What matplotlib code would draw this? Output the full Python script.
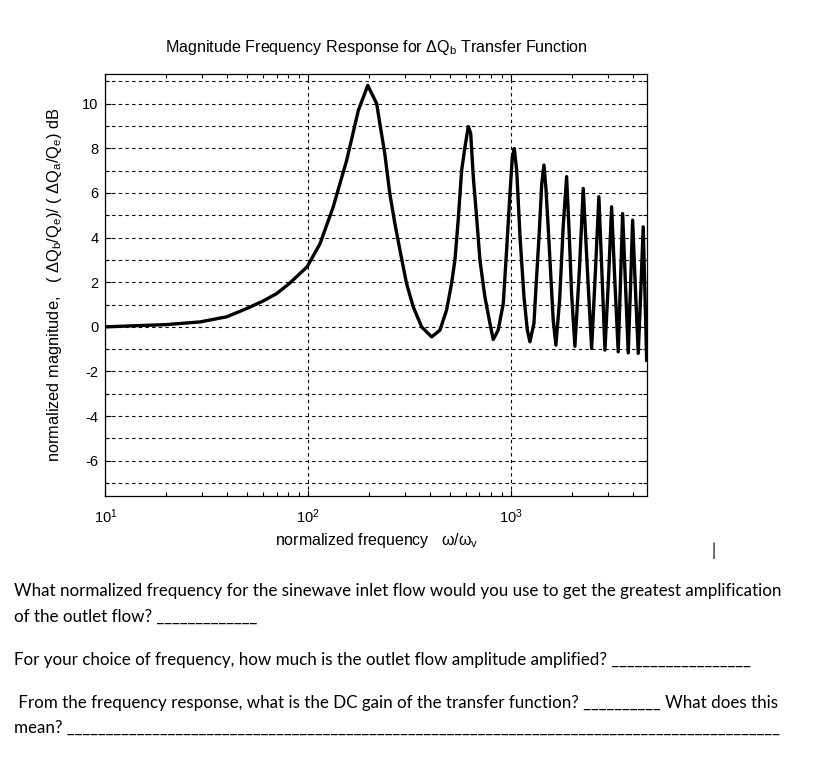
import matplotlib
matplotlib.use("Agg")
import matplotlib.pyplot as plt
import numpy as np
from matplotlib.ticker import FixedLocator, LogLocator, NullFormatter

plt.rcParams['font.family'] = ['Liberation Sans', 'DejaVu Sans']
plt.rcParams['mathtext.fontset'] = 'custom'
plt.rcParams['mathtext.rm'] = 'Liberation Sans'
plt.rcParams['mathtext.it'] = 'Liberation Sans:italic'
plt.rcParams['mathtext.bf'] = 'Liberation Sans:bold'
plt.rcParams['axes.unicode_minus'] = False

# normalized frequency (omega / omega_v)
freq = [10, 19.9, 29.3, 39.7, 49.8, 60.1, 70, 80.8, 98.9, 114.6, 133, 155, 177,
        197, 218, 226, 239, 253, 268, 284, 306, 330, 363,
        407, 447, 482, 510, 530, 550, 572, 594, 617, 634, 653, 678, 704, 745, 789,
        819, 866, 918, 953, 990, 1017, 1040, 1069, 1110, 1161, 1206,
        1242, 1300, 1340, 1380, 1420, 1456, 1490, 1528, 1618,
        1668, 1740, 1812, 1884, 1940, 1993,
        2070, 2180, 2275, 2390, 2503, 2610, 2718, 2820, 2911, 3030, 3140, 3260,
        3385, 3470, 3559, 3680, 3793, 3890, 3987, 4120, 4250, 4370, 4496, 4677]
# magnitude in dB
mag_db = [0.0, 0.1, 0.22, 0.45, 0.82, 1.16, 1.49, 1.94, 2.69, 3.73, 5.37, 7.46, 9.7,
          10.82, 10.0, 9.1, 7.76, 5.97, 4.63, 3.43, 1.94, 0.9, 0.0,
          -0.45, -0.15, 0.75, 1.94, 2.99, 4.78, 7.01, 8.06, 8.98, 8.66, 6.71, 4.92, 2.99, 1.34, 0.15,
          -0.57, -0.15, 1.05, 3.43, 5.97, 7.61, 7.99, 7.01, 4.03, 1.34, -0.15,
          -0.67, 0.15, 2.24, 4.18, 6.4, 7.25, 6.2, 4.48, 0.3,
          -0.82, 1.2, 4.48, 6.73, 4.2, 1.5,
          -0.87, 2.6, 6.2, 2.4, -0.97, 2.4, 5.83, 2.2, -1.04, 2.1, 5.38, 2.0,
          -1.12, 1.9, 5.08, 1.8, -1.17, 1.7, 4.78, 1.6, -1.19, 1.5, 4.48, -1.5]

y_major = [-6, -4, -2, 0, 2, 4, 6, 8, 10]
y_minor = [-7, -5, -3, -1, 1, 3, 5, 7, 9, 11]

# question lines: (y pixel, text, blank end pixel or None, text after blank)
q_lines = [
    (591, "What normalized frequency for the sinewave inlet flow would you use to get the greatest amplification", None, ""),
    (617, "of the outlet flow? ", 257, ""),
    (660, "For your choice of frequency, how much is the outlet flow amplitude amplified? ", 748, ""),
    (703, " From the frequency response, what is the DC gain of the transfer function? ", 662, " What does this"),
    (728, "mean? ", 781, ""),
]

W, H = 818, 784
fig = plt.figure(figsize=(W / 100, H / 100), dpi=100)
ax = fig.add_axes([105.3 / W, 1 - 496 / H, (647.3 - 105.3) / W, (496 - 74) / H])

ax.semilogx(freq, mag_db, color='black', linewidth=2.4, solid_joinstyle='round')
ax.set_xlim(10, 4710)
ax.set_ylim(-7.58, 11.33)

ax.yaxis.set_major_locator(FixedLocator(y_major))
ax.yaxis.set_minor_locator(FixedLocator(y_minor))
ax.xaxis.set_major_locator(LogLocator(base=10))
ax.xaxis.set_minor_locator(LogLocator(base=10, subs=np.arange(2, 10)))
ax.xaxis.set_minor_formatter(NullFormatter())

ax.grid(True, which='major', axis='both', color='black', linestyle=(0, (3, 3)), linewidth=0.8)
ax.grid(True, which='minor', axis='y', color='black', linestyle=(0, (3, 3)), linewidth=0.8)

ax.tick_params(which='both', direction='in', top=True, right=True, labelsize=10.5, width=0.8)
ax.tick_params(which='major', length=4)
ax.tick_params(which='minor', length=3)
ax.tick_params(axis='x', pad=8)
ax.tick_params(axis='y', pad=5)
for s in ax.spines.values():
    s.set_linewidth(0.9)

ax.set_title("Magnitude Frequency Response for ΔQ$_\\mathregular{b}$ Transfer Function",
             fontsize=11.6, pad=16)
ax.set_xlabel("normalized frequency   ω/ω$_\\mathregular{v}$", fontsize=11.5, labelpad=4)
ax.set_ylabel("normalized magnitude,   ( ΔQ$_\\mathregular{b}$/Q$_\\mathregular{e}$)/ "
              "( ΔQ$_\\mathregular{a}$/Q$_\\mathregular{e}$) dB", fontsize=11.8, labelpad=13)

# question text below the chart, sized to the width of the first line
qfont = ['Lato', 'DejaVu Sans']
renderer = fig.canvas.get_renderer()


def text_width(s, size):
    t = fig.text(0, 0, s, fontsize=size, family=qfont)
    w = t.get_window_extent(renderer).width
    t.remove()
    return w


qsize = 11 * 763 / text_width(q_lines[0][1], 11)
us_w = text_width("_" * 20, qsize) / 20
x0 = 14
for y, s, blank_end, tail in q_lines:
    line = s
    if blank_end is not None:
        start = x0 + text_width(s, qsize)
        n = int(round((blank_end - start) / us_w))
        line = s + "_" * n + tail
    fig.text(x0 / W, 1 - y / H, line, fontsize=qsize, family=qfont, va='center', ha='left')
fig.text(714 / W, 1 - 551 / H, "|", fontsize=qsize, family=qfont, va='center', ha='center')

fig.savefig("out.png", dpi=100)
